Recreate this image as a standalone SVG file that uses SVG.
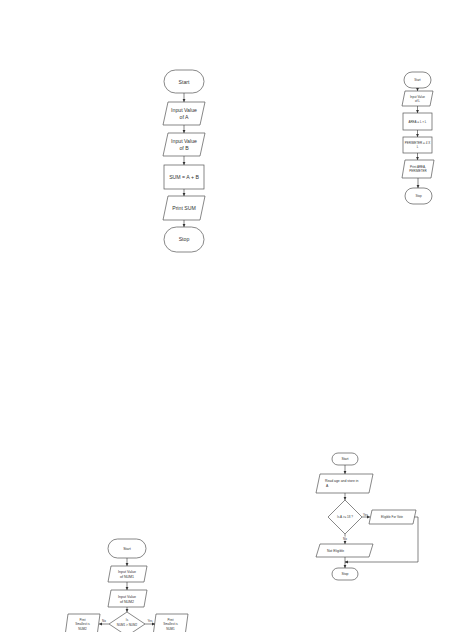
<svg xmlns="http://www.w3.org/2000/svg" width="474" height="632" viewBox="0 0 474 632">
<style>
.s{fill:#fff;stroke:#555;stroke-width:0.7}
.c{fill:none;stroke:#333;stroke-width:0.6}
text{font-family:"Liberation Sans",Arial,sans-serif;fill:#333;text-anchor:middle}
.t1{font-size:5.2px}
.t2{font-size:3px}
.t3{font-size:3.4px}
.t4{font-size:3.6px}
.l{text-anchor:start}
</style>
<defs>
<marker id="a" markerUnits="userSpaceOnUse" markerWidth="4" markerHeight="4" refX="3.2" refY="2" orient="auto"><path d="M0,0.5 L3.2,2 L0,3.5 Z" fill="#333"/></marker>
</defs>
<rect width="474" height="632" fill="#fff"/>

<!-- Chart 1: top-left -->
<g id="c1-start"><rect class="s" x="164" y="70" width="40" height="23" rx="11.5"/><text class="t1" x="184" y="83.5">Start</text></g>
<g id="c1-inA"><polygon class="s" points="168,102 205,102 200,125 163,125"/><text class="t1" x="184" y="112">Input Value</text><text class="t1" x="184" y="119">of A</text></g>
<g id="c1-inB"><polygon class="s" points="168,133 205,133 200,156 163,156"/><text class="t1" x="184" y="143">Input Value</text><text class="t1" x="184" y="150">of B</text></g>
<g id="c1-sum"><rect class="s" x="164" y="165" width="40" height="24"/><text class="t1" x="184" y="179">SUM = A + B</text></g>
<g id="c1-print"><polygon class="s" points="168,196 205,196 200,220 163,220"/><text class="t1" x="184" y="210">Print SUM</text></g>
<g id="c1-stop"><rect class="s" x="164" y="227" width="40" height="25" rx="12.5"/><text class="t1" x="184" y="241">Stop</text></g>

<!-- Chart 2: top-right -->
<g id="c2-start"><rect class="s" x="404" y="72" width="27" height="16" rx="8"/><text class="t2" x="417.5" y="81">Start</text></g>
<g id="c2-in"><polygon class="s" points="405,91 433,91 430,106 402,106"/><text class="t2" x="417.5" y="97.5">Input Value</text><text class="t2" x="417.5" y="101.5">of L</text></g>
<g id="c2-area"><rect class="s" x="403" y="113" width="29" height="17"/><text class="t2" x="417.5" y="122.5">AREA = L × L</text></g>
<g id="c2-per"><rect class="s" x="403" y="137" width="29" height="16"/><text class="t2" x="417.5" y="144">PERIMETER = 4 X</text><text class="t2" x="417.5" y="148">L</text></g>
<g id="c2-print"><polygon class="s" points="405,160 434,160 431,178 402,178"/><text class="t2" x="418" y="168">Print AREA,</text><text class="t2" x="418" y="172">PERIMETER</text></g>
<g id="c2-stop"><rect class="s" x="405" y="188" width="27" height="16" rx="8"/><text class="t2" x="418.5" y="197">Stop</text></g>

<!-- Chart 3: bottom-right -->
<g id="c3-start"><rect class="s" x="332" y="453" width="26" height="12" rx="6"/><text class="t3" x="345" y="460.2">Start</text></g>
<g id="c3-read"><polygon class="s" points="320,474 373,474 369,493 316,493"/><text class="t3 l" x="325" y="482">Read age and store in</text><text class="t3 l" x="326" y="487">A</text></g>
<g id="c3-dec"><polygon class="s" points="345,500 362,517 345,534 328,517"/><text class="t2" x="345" y="518">Is A &gt;= 18 ?</text></g>
<g id="c3-yes"><polygon class="s" points="372,510 416,510 413,524 369,524"/><text class="t2" x="392" y="518">Eligible For Vote</text></g>
<g id="c3-no"><polygon class="s" points="320,544 373,544 369,557 316,557"/><text class="t3 l" x="327" y="551.5">Not Eligible</text></g>
<g id="c3-stop"><rect class="s" x="332" y="568" width="26" height="12" rx="6"/><text class="t3" x="345" y="575.2">Stop</text></g>

<!-- Chart 4: bottom-left -->
<g id="c4-start"><rect class="s" x="108" y="539" width="38" height="19" rx="9.5"/><text class="t4" x="127" y="549.5">Start</text></g>
<g id="c4-in1"><polygon class="s" points="111,566 147,566 144,582 108,582"/><text class="t4" x="127" y="573">Input Value</text><text class="t4" x="127" y="578">of NUM1</text></g>
<g id="c4-in2"><polygon class="s" points="111,590 147,590 144,607 108,607"/><text class="t4" x="127" y="597.5">Input Value</text><text class="t4" x="127" y="602.5">of NUM2</text></g>
<g id="c4-dec"><polygon class="s" points="127,612 145,624 127,636 109,624"/><text class="t2" x="127" y="620.5">Is</text><text class="t2" x="127" y="625.5">NUM1 &gt; NUM2</text></g>
<g id="c4-left"><polygon class="s" points="68,614 100,614 97,636 65,636"/><text class="t2" x="82.5" y="620.5">Print</text><text class="t2" x="82.5" y="625">Smallest is</text><text class="t2" x="82.5" y="629.5">NUM2</text></g>
<g id="c4-right"><polygon class="s" points="156,614 188,614 185,636 153,636"/><text class="t2" x="170.5" y="620.5">Print</text><text class="t2" x="170.5" y="625">Smallest is</text><text class="t2" x="170.5" y="629.5">NUM1</text></g>

<g id="connectors">
<path class="c" marker-end="url(#a)" d="M184,93 V102"/>
<path class="c" marker-end="url(#a)" d="M184,125 V133"/>
<path class="c" marker-end="url(#a)" d="M184,156 V165"/>
<path class="c" marker-end="url(#a)" d="M184,189 V196"/>
<path class="c" marker-end="url(#a)" d="M184,220 V227"/>

<path class="c" marker-end="url(#a)" d="M417.5,88 V91"/>
<path class="c" marker-end="url(#a)" d="M417.5,106 V113"/>
<path class="c" marker-end="url(#a)" d="M417.5,130 V137"/>
<path class="c" marker-end="url(#a)" d="M417.5,153 V160"/>
<path class="c" marker-end="url(#a)" d="M418,178 V188"/>

<path class="c" marker-end="url(#a)" d="M345,465 V474"/>
<path class="c" marker-end="url(#a)" d="M345,493 V500"/>
<path class="c" marker-end="url(#a)" d="M362,517 H370"/>
<text class="t2" x="365.5" y="516">Yes</text>
<path class="c" marker-end="url(#a)" d="M345,534 V544"/>
<text class="t2" x="345" y="539.5" style="paint-order:stroke;stroke:#fff;stroke-width:1.2px">No</text>
<path class="c" d="M414.5,517 H418 V562 H345"/>
<path class="c" marker-end="url(#a)" d="M348,562 H345"/>
<path class="c" marker-end="url(#a)" d="M345,557 V568"/>

<path class="c" marker-end="url(#a)" d="M127,558 V566"/>
<path class="c" marker-end="url(#a)" d="M127,582 V590"/>
<path class="c" marker-end="url(#a)" d="M127,607 V612"/>
<path class="c" marker-end="url(#a)" d="M109,624 H99"/>
<text class="t2" x="104" y="622">No</text>
<path class="c" marker-end="url(#a)" d="M145,624 H155"/>
<text class="t2" x="150" y="622">Yes</text>
</g>
</svg>
